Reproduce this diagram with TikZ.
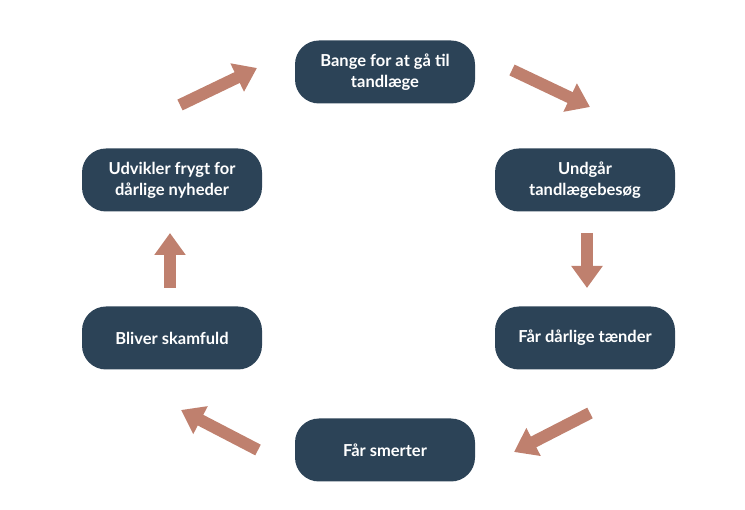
\documentclass[tikz,border=0pt]{standalone}
\usepackage{fontspec}
\setmainfont{Lato}
\usetikzlibrary{arrows.meta}
\definecolor{box}{HTML}{2C4357}
\definecolor{arr}{HTML}{BF806E}
\begin{document}
\begin{tikzpicture}[x=1pt,y=-1pt,
  box/.style={fill=box,rounded corners=24pt,minimum width=180pt,minimum height=63pt,text=white,font=\fontsize{16.5}{21}\selectfont\bfseries,align=center},
  arr/.style={draw=arr,line width=12pt,-{Triangle[width=30pt,length=22pt]}}]
\useasboundingbox (0,0) rectangle (745,510);
\node[box] (a) at (385,72) {Bange for at gå til\\tandlæge};
\node[box] (b) at (585,180) {Undgår\\tandlægebesøg};
\node[box] (c) at (585,338) {Får dårlige tænder};
\node[box] (d) at (385,450) {Får smerter};
\node[box] (e) at (172,338) {Bliver skamfuld};
\node[box] (f) at (172,180) {Udvikler frygt for\\dårlige nyheder};
\coordinate (a1) at (180,105); \coordinate (a2) at (257,68);
\coordinate (b1) at (512,70); \coordinate (b2) at (590,107);
\coordinate (c1) at (587,233); \coordinate (c2) at (587,288);
\coordinate (d1) at (590,413); \coordinate (d2) at (514,452);
\coordinate (e1) at (258,450); \coordinate (e2) at (181,410);
\coordinate (f1) at (170,288); \coordinate (f2) at (170,233);
\foreach \p in {a,b,c,d,e,f} \draw[arr] (\p1) -- (\p2);
\end{tikzpicture}
\end{document}
